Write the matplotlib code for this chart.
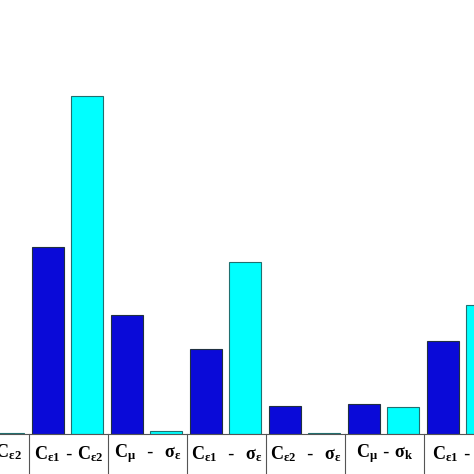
import matplotlib.pyplot as plt
from matplotlib.transforms import blended_transform_factory

plt.rcParams['mathtext.fontset'] = 'custom'
plt.rcParams['mathtext.rm'] = 'Liberation Serif:bold'
plt.rcParams['mathtext.it'] = 'Liberation Serif:bold'
plt.rcParams['mathtext.bf'] = 'Liberation Serif:bold'

# group labels (first and last are cut off at the image edge)
labels = [
    r'$\mathrm{C_{\mu}}$ - $\mathrm{C_{\varepsilon 2}}$',
    r'$\mathrm{C_{\varepsilon 1}}$ - $\mathrm{C_{\varepsilon 2}}$',
    r'$\mathrm{C_{\mu}}$  -  $\mathrm{\sigma_{\varepsilon}}$',
    r'$\mathrm{C_{\varepsilon 1}}$  -  $\mathrm{\sigma_{\varepsilon}}$',
    r'$\mathrm{C_{\varepsilon 2}}$  -  $\mathrm{\sigma_{\varepsilon}}$',
    r'$\mathrm{C_{\mu}}$ - $\mathrm{\sigma_{k}}$',
    r'$\mathrm{C_{\varepsilon 1}}$ - $\mathrm{\sigma_{k}}$',
]
dark_vals = [60, 187, 119, 85, 28, 30, 93]
cyan_vals = [1.5, 338, 3, 172, 1.5, 27, 129]

x = list(range(len(labels)))
w = 0.405

fig = plt.figure(figsize=(4.74, 4.74), dpi=100)
ax = fig.add_axes([0, 40 / 474, 1, 434 / 474])
ax.bar([i - 0.26 for i in x], dark_vals, width=w, color='#0a0ad8', edgecolor='#203040', linewidth=0.8)
ax.bar([i + 0.24 for i in x], cyan_vals, width=w, color='#00ffff', edgecolor='#207070', linewidth=0.8)

ax.set_xlim(0.133, 6.133)
ax.set_ylim(0, 434)
for s in ['top', 'left', 'right']:
    ax.spines[s].set_visible(False)
ax.spines['bottom'].set_color('#555555')
ax.set_xticks([])
ax.set_yticks([])

tr = blended_transform_factory(ax.transData, ax.transAxes)
for i in range(len(labels) + 1):
    ax.plot([i - 0.5, i - 0.5], [0, -40 / 434], color='#555555', lw=0.8,
            transform=tr, clip_on=False)
for i, lab in enumerate(labels):
    ax.text(i, -20 / 434, lab, transform=tr, ha='center', va='center', fontsize=13)

fig.savefig('out.png', dpi=100)
